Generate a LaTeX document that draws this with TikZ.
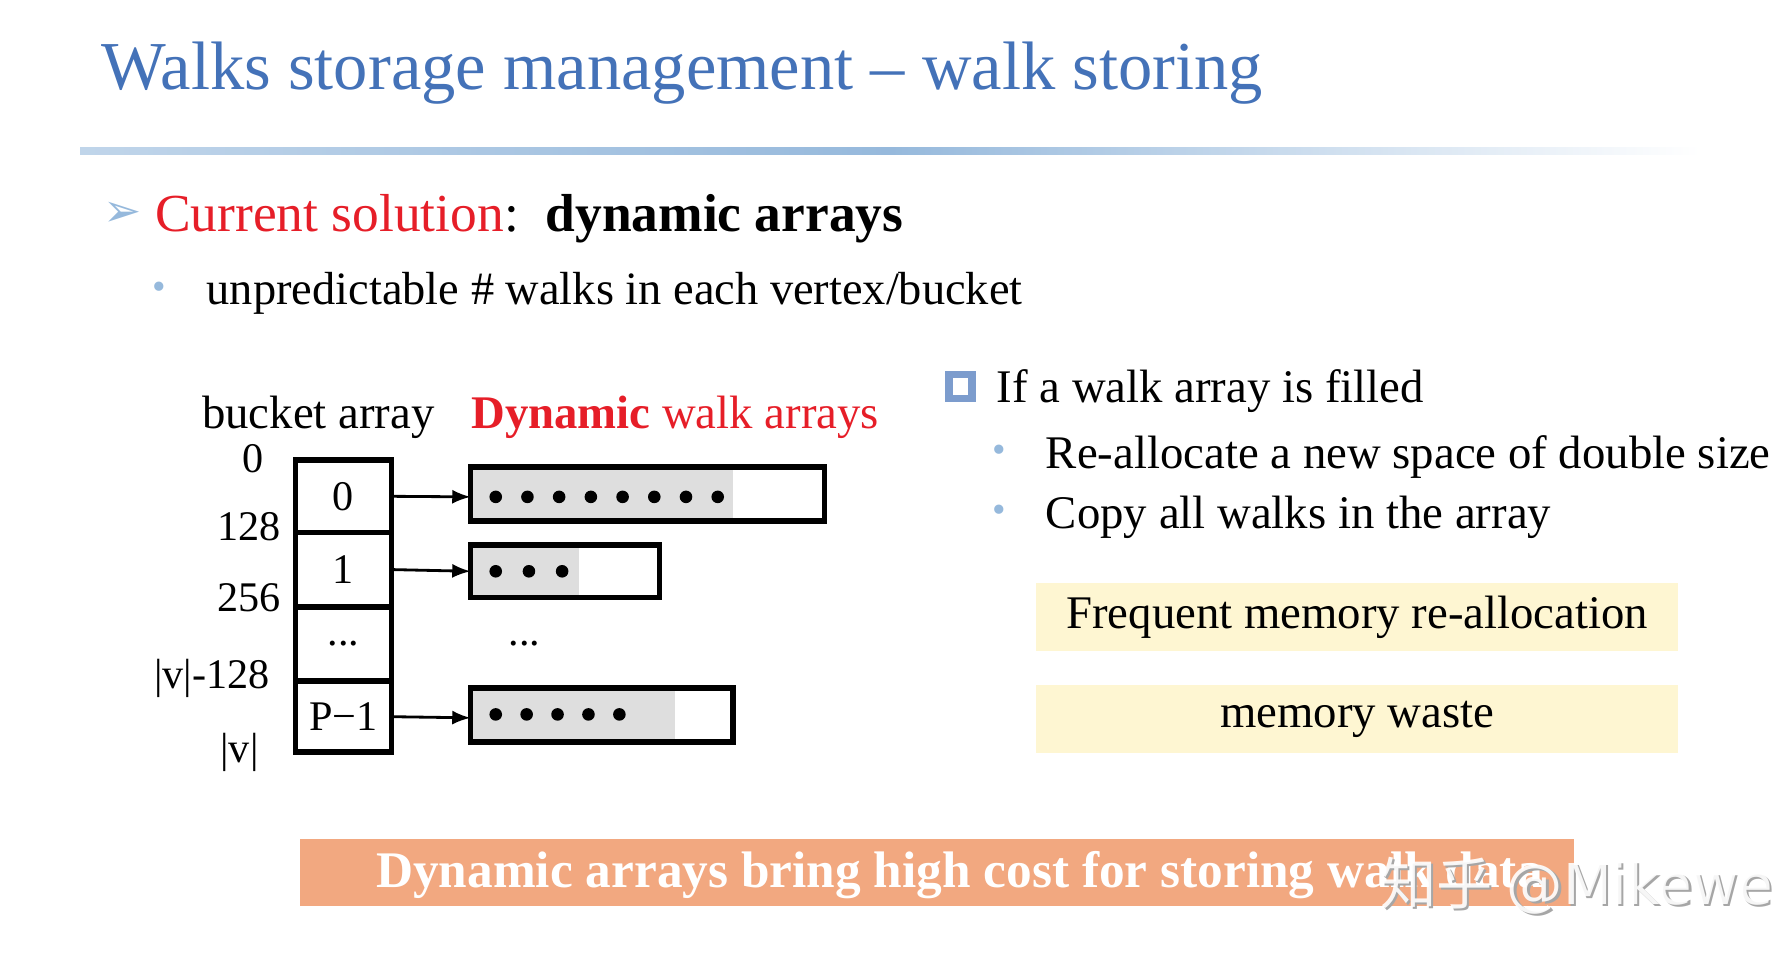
\documentclass[tikz,border=0pt]{standalone}
\usepackage{fontspec}
\setmainfont{Liberation Serif}
\newfontfamily\cjk{Noto Sans CJK SC}
\newfontfamily\sansw{DejaVu Sans}
\definecolor{tblue}{RGB}{68,114,184}
\definecolor{lblue}{RGB}{150,185,220}
\definecolor{sred}{RGB}{230,30,40}
\definecolor{ybox}{RGB}{254,246,210}
\definecolor{obar}{RGB}{242,168,128}
\definecolor{gfill}{RGB}{222,222,222}
\begin{document}
\begin{tikzpicture}[x=0.011449cm,y=-0.011449cm,
  lab/.style={anchor=base west,inner sep=0pt},
  con/.style={-latex,line width=0.8pt},
  yb/.style={fill=ybox,draw=none,minimum width=561*0.011449cm,minimum height=60*0.011449cm,font=\fontsize{13.3}{16}\selectfont}]
\useasboundingbox (0,0) rectangle (1560,836);
% title
\node[lab,text=tblue,font=\fontsize{19.5}{23}\selectfont] (title) at (88,78) {Walks storage management – walk storing};
\shade[left color=lblue!60,right color=white,middle color=lblue] (70,129) rectangle (1485,135);
% bullets
\node[lab,text=lblue,font=\sansw\fontsize{13}{16}\selectfont] (b1) at (90,198) {➢};
\node[lab,font=\fontsize{15.2}{19}\selectfont] (cs) at (135,202) {\textcolor{sred}{Current solution}:\ \ \textbf{dynamic arrays}};
\node[lab,text=lblue,font=\fontsize{11}{14}\selectfont] (b2) at (133,262) {•};
\node[lab,font=\fontsize{13.2}{16}\selectfont] (t2) at (180,266) {unpredictable \# walks in each vertex/bucket};
% headers
\node[lab,font=\fontsize{13.3}{16}\selectfont] (ba) at (176,374) {bucket array};
\node[lab,text=sred,font=\fontsize{13.3}{16}\selectfont] (dw) at (411,374) {\textbf{Dynamic} walk arrays};
% left labels
\foreach \t/\x/\y/\n in {0/211/413/l0,128/189/472/l1,256/189/534/l2,{|v|-128}/134/601/l3,{|v|}/192/666/l4}
  \node[lab,font=\fontsize{12}{14}\selectfont] (\n) at (\x,\y) {\t};
% bucket boxes
\foreach \t/\a/\b/\n in {0/402/465/k0,1/465/530/k1,{...}/530/595/k2,{P\textminus1}/595/657/k3}{
  \draw[line width=1.6pt] (258,\a) rectangle (342,\b);
  \node[font=\fontsize{12}{14}\selectfont] (\n) at (300,{(\a+\b)/2}) {\t};
  \coordinate (\n e) at (342,{(\a+\b)/2});
}
% walk arrays
\fill[gfill] (411,408) rectangle (640,455);
\draw[line width=1.6pt] (411,408) rectangle (720,455);
\foreach \i in {0,...,7} \fill (433+\i*27.7,434) circle (5.5);
\coordinate (w0) at (411,434);
\fill[gfill] (411,476) rectangle (506,522);
\draw[line width=1.6pt] (411,476) rectangle (576,522);
\foreach \i in {0,1,2} \fill (433+\i*29,499) circle (5.5);
\coordinate (w1) at (411,499);
\node[font=\fontsize{12}{14}\selectfont] (dd) at (458,562) {...};
\fill[gfill] (411,601) rectangle (590,648);
\draw[line width=1.6pt] (411,601) rectangle (640,648);
\foreach \i in {0,...,4} \fill (433+\i*27,624) circle (5.5);
\coordinate (w3) at (411,627);
\draw[con] (k0e) -- (w0);
\draw[con] (k1e) -- (w1);
\draw[con] (k3e) -- (w3);
% right text
\draw[tblue!70,line width=2.2pt] (829,327) rectangle (849,348);
\node[lab,font=\fontsize{13.3}{16}\selectfont] (r1) at (870,352) {If a walk array is filled};
\node[lab,text=lblue,font=\fontsize{11}{14}\selectfont] (b3) at (866,404) {•};
\node[lab,font=\fontsize{13.3}{16}\selectfont] (r2) at (913,409) {Re-allocate a new space of double size};
\node[lab,text=lblue,font=\fontsize{11}{14}\selectfont] (b4) at (866,456) {•};
\node[lab,font=\fontsize{13.3}{16}\selectfont] (r3) at (913,462) {Copy all walks in the array};
\node[yb] (y1) at (1185.5,539) {Frequent memory re-allocation};
\node[yb] (y2) at (1185.5,628) {memory waste};
% bottom bar
\fill[obar] (262,733) rectangle (1375,791);
\node[lab,text=white,font=\bfseries\fontsize{14.6}{18}\selectfont] (bt) at (328,775) {Dynamic arrays bring high cost for storing walk data};
\node[lab,text=gray!70,font=\fontsize{16}{20}\selectfont] (wms) at (1207,792) {{\cjk 知乎} {\sansw @Mikewe}};
\node[lab,text=white,opacity=0.9,font=\fontsize{16}{20}\selectfont] (wm) at (1205,790) {{\cjk 知乎} {\sansw @Mikewe}};
\end{tikzpicture}
\end{document}
